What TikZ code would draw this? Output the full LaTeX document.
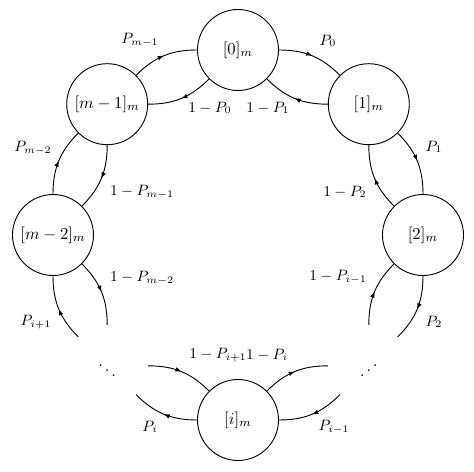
\documentclass[tikz,border=0pt]{standalone}
\usepackage{graphicx}
\usetikzlibrary{decorations.markings,arrows.meta}
\begin{document}
\begin{tikzpicture}[x=0.6pt,y=0.6pt,
  state/.style={circle,draw,line width=0.55pt,minimum size=48.6pt,inner sep=0pt},
  ghost/.style={circle,minimum size=48.6pt,inner sep=0pt},
  flow/.style={line width=0.55pt,postaction={decorate},
    decoration={markings,mark=at position 0.5 with {\arrow{Latex[length=3.6pt,width=2.8pt]}}}},
  lab/.style={font=\fontsize{8.7}{10}\selectfont,inner sep=0pt}]
\useasboundingbox (0,0) rectangle (474,-472);
% states
\node[state] (n0) at (238,-50) {$[0]_m$};
\node[state] (n1) at (368.8,-104.2) {$[1]_m$};
\node[state] (n2) at (423,-235) {$[2]_m$};
\node[state] (ni) at (238,-420) {$[i]_m$};
\node[state] (nm1) at (107.2,-104.2) {$[m-1]_m$};
\node[state] (nm2) at (53,-235) {$[m-2]_m$};
\node[ghost] (dl) at (107.2,-365.8) {$\ddots$};
\node[ghost] (dr) at (368.8,-365.8) {\reflectbox{$\ddots$}};
% forward (outer) edges
\draw[flow] (nm1.45) to[out=45,in=180] (n0.180);
\draw[flow] (n0.0) to[out=0,in=135] (n1.135);
\draw[flow] (n1.-45) to[out=-45,in=90] (n2.90);
\draw[flow] (n2.270) to[out=270,in=45] (dr.45);
\draw[flow] (dr.225) to[out=225,in=0] (ni.0);
\draw[flow] (ni.180) to[out=180,in=315] (dl.315);
\draw[flow] (dl.135) to[out=135,in=270] (nm2.270);
\draw[flow] (nm2.90) to[out=90,in=225] (nm1.225);
% backward (inner) edges
\draw[flow] (n0.225) to[out=225,in=0] (nm1.0);
\draw[flow] (n1.180) to[out=180,in=-45] (n0.-45);
\draw[flow] (n2.135) to[out=135,in=-90] (n1.-90);
\draw[flow] (dr.90) to[out=90,in=225] (n2.225);
\draw[flow] (ni.45) to[out=45,in=180] (dr.180);
\draw[flow] (dl.0) to[out=0,in=135] (ni.135);
\draw[flow] (nm2.315) to[out=315,in=90] (dl.90);
\draw[flow] (nm1.270) to[out=270,in=45] (nm2.45);
% labels
\node[lab] (l1) at (140,-40) {$P_{m-1}$};
\node[lab] (l2) at (328,-41) {$P_0$};
\node[lab] (l3) at (210,-108) {$1-P_0$};
\node[lab] (l4) at (268,-108) {$1-P_1$};
\node[lab] (l5) at (434,-147) {$P_1$};
\node[lab] (l6) at (345,-192) {$1-P_2$};
\node[lab] (l7) at (33,-148) {$P_{m-2}$};
\node[lab] (l8) at (142,-192) {$1-P_{m-1}$};
\node[lab] (l9) at (142,-278) {$1-P_{m-2}$};
\node[lab] (l10) at (338,-277) {$1-P_{i-1}$};
\node[lab] (l11) at (36,-322) {$P_{i+1}$};
\node[lab] (l12) at (434,-322) {$P_2$};
\node[lab] (l13) at (218,-355) {$1-P_{i+1}$};
\node[lab] (l14) at (267,-355) {$1-P_i$};
\node[lab] (l15) at (150,-427) {$P_i$};
\node[lab] (l16) at (334,-427) {$P_{i-1}$};
\end{tikzpicture}
\end{document}
